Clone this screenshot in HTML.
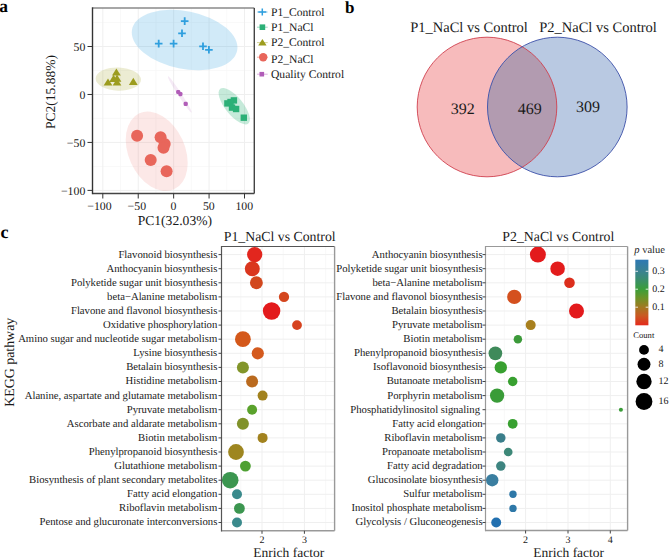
<!DOCTYPE html>
<html><head><meta charset="utf-8"><style>
html,body{margin:0;padding:0;background:#fff;}
svg{display:block;text-rendering:geometricPrecision;font-family:"Liberation Serif",serif;}
</style></head><body>
<svg width="669" height="557" viewBox="0 0 669 557">
<rect width="669" height="557" fill="#fff"/>
<line x1="120.5125" y1="8.0" x2="120.5125" y2="193.5" stroke="#f6f6f6" stroke-width="0.7" />
<line x1="155.9375" y1="8.0" x2="155.9375" y2="193.5" stroke="#f6f6f6" stroke-width="0.7" />
<line x1="191.3625" y1="8.0" x2="191.3625" y2="193.5" stroke="#f6f6f6" stroke-width="0.7" />
<line x1="226.78750000000002" y1="8.0" x2="226.78750000000002" y2="193.5" stroke="#f6f6f6" stroke-width="0.7" />
<line x1="92.5" y1="22.522499999999994" x2="254.3" y2="22.522499999999994" stroke="#f6f6f6" stroke-width="0.7" />
<line x1="92.5" y1="70.4875" x2="254.3" y2="70.4875" stroke="#f6f6f6" stroke-width="0.7" />
<line x1="92.5" y1="118.4525" x2="254.3" y2="118.4525" stroke="#f6f6f6" stroke-width="0.7" />
<line x1="92.5" y1="166.41750000000002" x2="254.3" y2="166.41750000000002" stroke="#f6f6f6" stroke-width="0.7" />
<line x1="102.8" y1="8.0" x2="102.8" y2="193.5" stroke="#efefef" stroke-width="1" />
<line x1="138.225" y1="8.0" x2="138.225" y2="193.5" stroke="#efefef" stroke-width="1" />
<line x1="173.65" y1="8.0" x2="173.65" y2="193.5" stroke="#efefef" stroke-width="1" />
<line x1="209.07500000000002" y1="8.0" x2="209.07500000000002" y2="193.5" stroke="#efefef" stroke-width="1" />
<line x1="244.5" y1="8.0" x2="244.5" y2="193.5" stroke="#efefef" stroke-width="1" />
<line x1="92.5" y1="46.504999999999995" x2="254.3" y2="46.504999999999995" stroke="#efefef" stroke-width="1" />
<line x1="92.5" y1="94.47" x2="254.3" y2="94.47" stroke="#efefef" stroke-width="1" />
<line x1="92.5" y1="142.435" x2="254.3" y2="142.435" stroke="#efefef" stroke-width="1" />
<line x1="92.5" y1="190.4" x2="254.3" y2="190.4" stroke="#efefef" stroke-width="1" />
<ellipse cx="184.6" cy="40" rx="53.6" ry="28.8" transform="rotate(11.5 184.6 40)" fill="#2f9fde" fill-opacity="0.225"/>
<ellipse cx="118.3" cy="79.1" rx="22.7" ry="11.6" transform="rotate(2 118.3 79.1)" fill="#9c9c1e" fill-opacity="0.195"/>
<ellipse cx="234.25" cy="106.15" rx="22.35" ry="8.85" transform="rotate(51 234.25 106.15)" fill="#2cb077" fill-opacity="0.27"/>
<ellipse cx="156.7" cy="151.3" rx="41.8" ry="28.2" transform="rotate(65.5 156.7 151.3)" fill="#e8665b" fill-opacity="0.15"/>
<ellipse cx="179.8" cy="94.5" rx="21.6" ry="1.8" transform="rotate(56.9 179.8 94.5)" fill="#b15db8" fill-opacity="0.13"/>
<path d="M180.89999999999998 21.1H188.5M184.7 17.3V24.900000000000002" stroke="#2f9fde" stroke-width="1.8"/>
<path d="M178.2 33.3H185.8M182 29.499999999999996V37.099999999999994" stroke="#2f9fde" stroke-width="1.8"/>
<path d="M154.89999999999998 43.6H162.5M158.7 39.800000000000004V47.4" stroke="#2f9fde" stroke-width="1.8"/>
<path d="M169.79999999999998 43.6H177.4M173.6 39.800000000000004V47.4" stroke="#2f9fde" stroke-width="1.8"/>
<path d="M199.2 46.3H206.8M203 42.5V50.099999999999994" stroke="#2f9fde" stroke-width="1.8"/>
<path d="M205.1 49.8H212.70000000000002M208.9 46.0V53.599999999999994" stroke="#2f9fde" stroke-width="1.8"/>
<path d="M116.4 68.4L120.80000000000001 75.6L112.0 75.6Z" fill="#9c9c1e"/>
<path d="M117.0 74.6L121.4 81.8L112.6 81.8Z" fill="#9c9c1e"/>
<path d="M113.6 74.8L118.0 82.0L109.19999999999999 82.0Z" fill="#9c9c1e"/>
<path d="M117.0 78.4L121.4 85.6L112.6 85.6Z" fill="#9c9c1e"/>
<path d="M108.0 78.4L112.4 85.6L103.6 85.6Z" fill="#9c9c1e"/>
<path d="M133.3 77.8L137.70000000000002 85.0L128.9 85.0Z" fill="#9c9c1e"/>
<rect x="230.70000000000002" y="97.2" width="6.4" height="6.4" fill="#2cb077"/>
<rect x="227.3" y="98.8" width="6.4" height="6.4" fill="#2cb077"/>
<rect x="224.20000000000002" y="100.2" width="6.4" height="6.4" fill="#2cb077"/>
<rect x="228.8" y="104.39999999999999" width="6.4" height="6.4" fill="#2cb077"/>
<rect x="232.9" y="105.8" width="6.4" height="6.4" fill="#2cb077"/>
<rect x="240.60000000000002" y="114.5" width="6.4" height="6.4" fill="#2cb077"/>
<circle cx="137.1" cy="135.8" r="6" fill="#e8665b"/>
<circle cx="160.6" cy="137.2" r="6" fill="#e8665b"/>
<circle cx="164.7" cy="144" r="6" fill="#e8665b"/>
<circle cx="163.5" cy="147.8" r="6" fill="#e8665b"/>
<circle cx="150.7" cy="160" r="6" fill="#e8665b"/>
<circle cx="166.6" cy="171.3" r="6" fill="#e8665b"/>
<rect x="176.14999999999998" y="89.95" width="4.1" height="4.1" rx="1.3" fill="#b15db8"/>
<rect x="178.35" y="92.05" width="4.1" height="4.1" rx="1.3" fill="#b15db8"/>
<rect x="183.64999999999998" y="101.85000000000001" width="4.1" height="4.1" rx="1.3" fill="#b15db8"/>
<line x1="92.5" y1="8.0" x2="254.3" y2="8.0" stroke="#8a8a8a" stroke-width="1.5" />
<line x1="254.3" y1="8.0" x2="254.3" y2="193.5" stroke="#444" stroke-width="1.4" />
<line x1="92.5" y1="193.5" x2="254.3" y2="193.5" stroke="#444" stroke-width="1.4" />
<line x1="92.5" y1="7.3" x2="92.5" y2="194.2" stroke="#333" stroke-width="1.4" />
<line x1="102.8" y1="193.5" x2="102.8" y2="198.5" stroke="#333" stroke-width="1" />
<text x="99.5" y="209.9" font-size="11.8" text-anchor="middle" fill="#1a1a1a" >&#8722;100</text>
<line x1="138.225" y1="193.5" x2="138.225" y2="198.5" stroke="#333" stroke-width="1" />
<text x="136.825" y="209.9" font-size="11.8" text-anchor="middle" fill="#1a1a1a" >&#8722;50</text>
<line x1="173.65" y1="193.5" x2="173.65" y2="198.5" stroke="#333" stroke-width="1" />
<text x="173.45000000000002" y="209.9" font-size="11.8" text-anchor="middle" fill="#1a1a1a" >0</text>
<line x1="209.07500000000002" y1="193.5" x2="209.07500000000002" y2="198.5" stroke="#333" stroke-width="1" />
<text x="208.87500000000003" y="209.9" font-size="11.8" text-anchor="middle" fill="#1a1a1a" >50</text>
<line x1="244.5" y1="193.5" x2="244.5" y2="198.5" stroke="#333" stroke-width="1" />
<text x="244.3" y="209.9" font-size="11.8" text-anchor="middle" fill="#1a1a1a" >100</text>
<line x1="87.5" y1="46.504999999999995" x2="92.5" y2="46.504999999999995" stroke="#333" stroke-width="1" />
<text x="85.3" y="50.605" font-size="11.8" text-anchor="end" fill="#1a1a1a" >50</text>
<line x1="87.5" y1="94.47" x2="92.5" y2="94.47" stroke="#333" stroke-width="1" />
<text x="85.3" y="98.57" font-size="11.8" text-anchor="end" fill="#1a1a1a" >0</text>
<line x1="87.5" y1="142.435" x2="92.5" y2="142.435" stroke="#333" stroke-width="1" />
<text x="85.3" y="146.535" font-size="11.8" text-anchor="end" fill="#1a1a1a" >&#8722;50</text>
<line x1="87.5" y1="190.4" x2="92.5" y2="190.4" stroke="#333" stroke-width="1" />
<text x="85.3" y="194.5" font-size="11.8" text-anchor="end" fill="#1a1a1a" >&#8722;100</text>
<text x="174.85" y="224.6" font-size="13.6" text-anchor="middle" fill="#1a1a1a" >PC1(32.03%)</text>
<text x="0" y="0" font-size="13.5" text-anchor="middle" fill="#1a1a1a" transform="translate(54.5 92) rotate(-90)">PC2(15.88%)</text>
<line x1="257" y1="12" x2="267.7" y2="12" stroke="#9fd0ee" stroke-width="1" />
<path d="M258.3 12H266.3M262.3 8.4V15.6" stroke="#2f9fde" stroke-width="1.5"/>
<line x1="257" y1="27.2" x2="267.7" y2="27.2" stroke="#9ad8bf" stroke-width="1" />
<rect x="259.59999999999997" y="24.4" width="5.6" height="5.6" fill="#2cb077"/>
<line x1="257" y1="42.6" x2="267.7" y2="42.6" stroke="#d4d49a" stroke-width="1" />
<path d="M262.4 38.9L266.6 45.4L258.2 45.4Z" fill="#9c9c1e"/>
<line x1="257" y1="57.2" x2="267.7" y2="57.2" stroke="#f3aaa2" stroke-width="1" />
<circle cx="263.2" cy="57.2" r="4.2" fill="#e8665b"/>
<line x1="257" y1="74.2" x2="267.7" y2="74.2" stroke="#dcb0e0" stroke-width="1" />
<rect x="259.5" y="71.9" width="4.6" height="4.6" fill="#b15db8"/>
<text x="271.0" y="15.7" font-size="11.6" text-anchor="start" fill="#1a1a1a" >P1_Control</text>
<text x="271.0" y="30.9" font-size="11.6" text-anchor="start" fill="#1a1a1a" >P1_NaCl</text>
<text x="271.0" y="46.1" font-size="11.6" text-anchor="start" fill="#1a1a1a" >P2_Control</text>
<text x="271.0" y="63.0" font-size="11.6" text-anchor="start" fill="#1a1a1a" >P2_NaCl</text>
<text x="271.0" y="78.2" font-size="11.6" text-anchor="start" fill="#1a1a1a" >Quality Control</text>
<text x="-0.8" y="11.8" font-size="17.5" font-weight="bold" fill="#000">a</text>
<text x="345" y="12.6" font-size="17" font-weight="bold" fill="#000">b</text>
<text x="0.5" y="237.6" font-size="18" font-weight="bold" fill="#000">c</text>
<defs><clipPath id="cl"><circle cx="487" cy="107" r="69.8"/></clipPath></defs>
<circle cx="487" cy="107" r="69.8" fill="#f7bbbc"/>
<circle cx="557.3" cy="107" r="69.8" fill="#b9c9e2"/>
<circle cx="557.3" cy="107" r="69.8" fill="#b29bb0" clip-path="url(#cl)"/>
<circle cx="487" cy="107" r="69.8" fill="none" stroke="#cf3f4e" stroke-width="0.9"/>
<circle cx="557.3" cy="107" r="69.8" fill="none" stroke="#3b4fa8" stroke-width="0.9"/>
<text x="469" y="32" font-size="14.5" text-anchor="middle" fill="#1a1a1a" >P1_NaCl vs Control</text>
<text x="598" y="32" font-size="14.5" text-anchor="middle" fill="#1a1a1a" >P2_NaCl vs Control</text>
<text x="462.75" y="113.9" font-size="16" text-anchor="middle" fill="#1a1a1a" >392</text>
<text x="529.75" y="113.9" font-size="16" text-anchor="middle" fill="#1a1a1a" >469</text>
<text x="587.9" y="112.2" font-size="16" text-anchor="middle" fill="#1a1a1a" >309</text>
<text x="0" y="0" font-size="13.9" text-anchor="middle" fill="#1a1a1a" transform="translate(14 362.3) rotate(-90)">KEGG pathway</text>
<line x1="240.8" y1="246.5" x2="240.8" y2="530.8" stroke="#f6f6f6" stroke-width="0.7" />
<line x1="283.2" y1="246.5" x2="283.2" y2="530.8" stroke="#f6f6f6" stroke-width="0.7" />
<line x1="325.6" y1="246.5" x2="325.6" y2="530.8" stroke="#f6f6f6" stroke-width="0.7" />
<line x1="262" y1="246.5" x2="262" y2="530.8" stroke="#efefef" stroke-width="1" />
<line x1="304.4" y1="246.5" x2="304.4" y2="530.8" stroke="#efefef" stroke-width="1" />
<line x1="221.5" y1="254.6" x2="334.6" y2="254.6" stroke="#efefef" stroke-width="1" />
<line x1="221.5" y1="268.7" x2="334.6" y2="268.7" stroke="#efefef" stroke-width="1" />
<line x1="221.5" y1="282.8" x2="334.6" y2="282.8" stroke="#efefef" stroke-width="1" />
<line x1="221.5" y1="296.9" x2="334.6" y2="296.9" stroke="#efefef" stroke-width="1" />
<line x1="221.5" y1="311.0" x2="334.6" y2="311.0" stroke="#efefef" stroke-width="1" />
<line x1="221.5" y1="325.1" x2="334.6" y2="325.1" stroke="#efefef" stroke-width="1" />
<line x1="221.5" y1="339.2" x2="334.6" y2="339.2" stroke="#efefef" stroke-width="1" />
<line x1="221.5" y1="353.3" x2="334.6" y2="353.3" stroke="#efefef" stroke-width="1" />
<line x1="221.5" y1="367.4" x2="334.6" y2="367.4" stroke="#efefef" stroke-width="1" />
<line x1="221.5" y1="381.5" x2="334.6" y2="381.5" stroke="#efefef" stroke-width="1" />
<line x1="221.5" y1="395.6" x2="334.6" y2="395.6" stroke="#efefef" stroke-width="1" />
<line x1="221.5" y1="409.7" x2="334.6" y2="409.7" stroke="#efefef" stroke-width="1" />
<line x1="221.5" y1="423.79999999999995" x2="334.6" y2="423.79999999999995" stroke="#efefef" stroke-width="1" />
<line x1="221.5" y1="437.9" x2="334.6" y2="437.9" stroke="#efefef" stroke-width="1" />
<line x1="221.5" y1="452.0" x2="334.6" y2="452.0" stroke="#efefef" stroke-width="1" />
<line x1="221.5" y1="466.1" x2="334.6" y2="466.1" stroke="#efefef" stroke-width="1" />
<line x1="221.5" y1="480.2" x2="334.6" y2="480.2" stroke="#efefef" stroke-width="1" />
<line x1="221.5" y1="494.29999999999995" x2="334.6" y2="494.29999999999995" stroke="#efefef" stroke-width="1" />
<line x1="221.5" y1="508.4" x2="334.6" y2="508.4" stroke="#efefef" stroke-width="1" />
<line x1="221.5" y1="522.5" x2="334.6" y2="522.5" stroke="#efefef" stroke-width="1" />
<circle cx="254.7" cy="254.6" r="7.65" fill="#e2261e"/>
<circle cx="252.3" cy="268.7" r="7.5" fill="#da361e"/>
<circle cx="256.4" cy="282.8" r="6.45" fill="#d2481e"/>
<circle cx="284" cy="296.9" r="5.15" fill="#d4461e"/>
<circle cx="271.6" cy="311.0" r="8.75" fill="#e31a1c"/>
<circle cx="297" cy="325.1" r="4.9" fill="#d6421e"/>
<circle cx="242.9" cy="339.2" r="7.9" fill="#d4581a"/>
<circle cx="257.8" cy="353.3" r="6.1" fill="#d45a1e"/>
<circle cx="242.9" cy="367.4" r="6.0" fill="#82952a"/>
<circle cx="252.1" cy="381.5" r="6.0" fill="#ba6a1e"/>
<circle cx="262.6" cy="395.6" r="5.0" fill="#a2821e"/>
<circle cx="252.1" cy="409.7" r="5.0" fill="#5aa22c"/>
<circle cx="242.9" cy="423.79999999999995" r="6.0" fill="#80922a"/>
<circle cx="262.6" cy="437.9" r="5.0" fill="#a2821e"/>
<circle cx="236" cy="452.0" r="7.9" fill="#9e8620"/>
<circle cx="245.4" cy="466.1" r="5.4" fill="#4ea032"/>
<circle cx="230.2" cy="480.2" r="8.3" fill="#3c9650"/>
<circle cx="237" cy="494.29999999999995" r="5.0" fill="#3a8a8c"/>
<circle cx="239.4" cy="508.4" r="5.4" fill="#3c9650"/>
<circle cx="237" cy="522.5" r="5.0" fill="#3a8a8c"/>
<line x1="221.5" y1="246.5" x2="334.6" y2="246.5" stroke="#555" stroke-width="1.2" />
<line x1="334.6" y1="246.5" x2="334.6" y2="530.8" stroke="#999" stroke-width="1.4" />
<line x1="221.5" y1="530.8" x2="334.6" y2="530.8" stroke="#999" stroke-width="1.4" />
<line x1="221.5" y1="245.9" x2="221.5" y2="531.5" stroke="#555" stroke-width="1.2" />
<line x1="218.5" y1="254.6" x2="221.5" y2="254.6" stroke="#444" stroke-width="1" />
<text x="217.3" y="257.5" font-size="10.7" text-anchor="end" fill="#1a1a1a" >Flavonoid biosynthesis</text>
<line x1="218.5" y1="268.7" x2="221.5" y2="268.7" stroke="#444" stroke-width="1" />
<text x="217.3" y="271.59999999999997" font-size="10.7" text-anchor="end" fill="#1a1a1a" >Anthocyanin biosynthesis</text>
<line x1="218.5" y1="282.8" x2="221.5" y2="282.8" stroke="#444" stroke-width="1" />
<text x="217.3" y="285.7" font-size="10.7" text-anchor="end" fill="#1a1a1a" >Polyketide sugar unit biosynthesis</text>
<line x1="218.5" y1="296.9" x2="221.5" y2="296.9" stroke="#444" stroke-width="1" />
<text x="217.3" y="299.79999999999995" font-size="10.7" text-anchor="end" fill="#1a1a1a" >beta&#8722;Alanine metabolism</text>
<line x1="218.5" y1="311.0" x2="221.5" y2="311.0" stroke="#444" stroke-width="1" />
<text x="217.3" y="313.9" font-size="10.7" text-anchor="end" fill="#1a1a1a" >Flavone and flavonol biosynthesis</text>
<line x1="218.5" y1="325.1" x2="221.5" y2="325.1" stroke="#444" stroke-width="1" />
<text x="217.3" y="328.0" font-size="10.7" text-anchor="end" fill="#1a1a1a" >Oxidative phosphorylation</text>
<line x1="218.5" y1="339.2" x2="221.5" y2="339.2" stroke="#444" stroke-width="1" />
<text x="217.3" y="342.09999999999997" font-size="10.7" text-anchor="end" fill="#1a1a1a" >Amino sugar and nucleotide sugar metabolism</text>
<line x1="218.5" y1="353.3" x2="221.5" y2="353.3" stroke="#444" stroke-width="1" />
<text x="217.3" y="356.2" font-size="10.7" text-anchor="end" fill="#1a1a1a" >Lysine biosynthesis</text>
<line x1="218.5" y1="367.4" x2="221.5" y2="367.4" stroke="#444" stroke-width="1" />
<text x="217.3" y="370.29999999999995" font-size="10.7" text-anchor="end" fill="#1a1a1a" >Betalain biosynthesis</text>
<line x1="218.5" y1="381.5" x2="221.5" y2="381.5" stroke="#444" stroke-width="1" />
<text x="217.3" y="384.4" font-size="10.7" text-anchor="end" fill="#1a1a1a" >Histidine metabolism</text>
<line x1="218.5" y1="395.6" x2="221.5" y2="395.6" stroke="#444" stroke-width="1" />
<text x="217.3" y="398.5" font-size="10.7" text-anchor="end" fill="#1a1a1a" >Alanine, aspartate and glutamate metabolism</text>
<line x1="218.5" y1="409.7" x2="221.5" y2="409.7" stroke="#444" stroke-width="1" />
<text x="217.3" y="412.59999999999997" font-size="10.7" text-anchor="end" fill="#1a1a1a" >Pyruvate metabolism</text>
<line x1="218.5" y1="423.79999999999995" x2="221.5" y2="423.79999999999995" stroke="#444" stroke-width="1" />
<text x="217.3" y="426.69999999999993" font-size="10.7" text-anchor="end" fill="#1a1a1a" >Ascorbate and aldarate metabolism</text>
<line x1="218.5" y1="437.9" x2="221.5" y2="437.9" stroke="#444" stroke-width="1" />
<text x="217.3" y="440.79999999999995" font-size="10.7" text-anchor="end" fill="#1a1a1a" >Biotin metabolism</text>
<line x1="218.5" y1="452.0" x2="221.5" y2="452.0" stroke="#444" stroke-width="1" />
<text x="217.3" y="454.9" font-size="10.7" text-anchor="end" fill="#1a1a1a" >Phenylpropanoid biosynthesis</text>
<line x1="218.5" y1="466.1" x2="221.5" y2="466.1" stroke="#444" stroke-width="1" />
<text x="217.3" y="469.0" font-size="10.7" text-anchor="end" fill="#1a1a1a" >Glutathione metabolism</text>
<line x1="218.5" y1="480.2" x2="221.5" y2="480.2" stroke="#444" stroke-width="1" />
<text x="217.3" y="483.09999999999997" font-size="10.7" text-anchor="end" fill="#1a1a1a" >Biosynthesis of plant secondary metabolites</text>
<line x1="218.5" y1="494.29999999999995" x2="221.5" y2="494.29999999999995" stroke="#444" stroke-width="1" />
<text x="217.3" y="497.19999999999993" font-size="10.7" text-anchor="end" fill="#1a1a1a" >Fatty acid elongation</text>
<line x1="218.5" y1="508.4" x2="221.5" y2="508.4" stroke="#444" stroke-width="1" />
<text x="217.3" y="511.29999999999995" font-size="10.7" text-anchor="end" fill="#1a1a1a" >Riboflavin metabolism</text>
<line x1="218.5" y1="522.5" x2="221.5" y2="522.5" stroke="#444" stroke-width="1" />
<text x="217.3" y="525.4" font-size="10.7" text-anchor="end" fill="#1a1a1a" >Pentose and glucuronate interconversions</text>
<line x1="262" y1="530.8" x2="262" y2="533.8" stroke="#444" stroke-width="1" />
<text x="262" y="542.9" font-size="10" text-anchor="middle" fill="#1a1a1a" >2</text>
<line x1="304.4" y1="530.8" x2="304.4" y2="533.8" stroke="#444" stroke-width="1" />
<text x="304.4" y="542.9" font-size="10" text-anchor="middle" fill="#1a1a1a" >3</text>
<text x="279.7" y="240.8" font-size="13.8" text-anchor="middle" fill="#1a1a1a" >P1_NaCl vs Control</text>
<text x="288.75" y="556.8" font-size="13.5" text-anchor="middle" fill="#1a1a1a" >Enrich factor</text>
<line x1="504.4" y1="246.5" x2="504.4" y2="530.5" stroke="#f6f6f6" stroke-width="0.7" />
<line x1="546.8" y1="246.5" x2="546.8" y2="530.5" stroke="#f6f6f6" stroke-width="0.7" />
<line x1="589.1" y1="246.5" x2="589.1" y2="530.5" stroke="#f6f6f6" stroke-width="0.7" />
<line x1="525.6" y1="246.5" x2="525.6" y2="530.5" stroke="#efefef" stroke-width="1" />
<line x1="568" y1="246.5" x2="568" y2="530.5" stroke="#efefef" stroke-width="1" />
<line x1="610.3" y1="246.5" x2="610.3" y2="530.5" stroke="#efefef" stroke-width="1" />
<line x1="485.5" y1="254.6" x2="627.6" y2="254.6" stroke="#efefef" stroke-width="1" />
<line x1="485.5" y1="268.7" x2="627.6" y2="268.7" stroke="#efefef" stroke-width="1" />
<line x1="485.5" y1="282.8" x2="627.6" y2="282.8" stroke="#efefef" stroke-width="1" />
<line x1="485.5" y1="296.9" x2="627.6" y2="296.9" stroke="#efefef" stroke-width="1" />
<line x1="485.5" y1="311.0" x2="627.6" y2="311.0" stroke="#efefef" stroke-width="1" />
<line x1="485.5" y1="325.1" x2="627.6" y2="325.1" stroke="#efefef" stroke-width="1" />
<line x1="485.5" y1="339.2" x2="627.6" y2="339.2" stroke="#efefef" stroke-width="1" />
<line x1="485.5" y1="353.3" x2="627.6" y2="353.3" stroke="#efefef" stroke-width="1" />
<line x1="485.5" y1="367.4" x2="627.6" y2="367.4" stroke="#efefef" stroke-width="1" />
<line x1="485.5" y1="381.5" x2="627.6" y2="381.5" stroke="#efefef" stroke-width="1" />
<line x1="485.5" y1="395.6" x2="627.6" y2="395.6" stroke="#efefef" stroke-width="1" />
<line x1="485.5" y1="409.7" x2="627.6" y2="409.7" stroke="#efefef" stroke-width="1" />
<line x1="485.5" y1="423.79999999999995" x2="627.6" y2="423.79999999999995" stroke="#efefef" stroke-width="1" />
<line x1="485.5" y1="437.9" x2="627.6" y2="437.9" stroke="#efefef" stroke-width="1" />
<line x1="485.5" y1="452.0" x2="627.6" y2="452.0" stroke="#efefef" stroke-width="1" />
<line x1="485.5" y1="466.1" x2="627.6" y2="466.1" stroke="#efefef" stroke-width="1" />
<line x1="485.5" y1="480.2" x2="627.6" y2="480.2" stroke="#efefef" stroke-width="1" />
<line x1="485.5" y1="494.29999999999995" x2="627.6" y2="494.29999999999995" stroke="#efefef" stroke-width="1" />
<line x1="485.5" y1="508.4" x2="627.6" y2="508.4" stroke="#efefef" stroke-width="1" />
<line x1="485.5" y1="522.5" x2="627.6" y2="522.5" stroke="#efefef" stroke-width="1" />
<circle cx="537.9" cy="254.6" r="8.0" fill="#e31a1c"/>
<circle cx="557.6" cy="268.7" r="7.25" fill="#e31c1c"/>
<circle cx="569.5" cy="282.8" r="5.3" fill="#dc2e1c"/>
<circle cx="514.3" cy="296.9" r="7.15" fill="#d4501e"/>
<circle cx="576.5" cy="311.0" r="7.5" fill="#e31a1c"/>
<circle cx="530.7" cy="325.1" r="5.0" fill="#a8801e"/>
<circle cx="517.9" cy="339.2" r="4.25" fill="#3c9a3a"/>
<circle cx="495.4" cy="353.3" r="6.85" fill="#3f8a5a"/>
<circle cx="500.8" cy="367.4" r="6.2" fill="#38a030"/>
<circle cx="512.7" cy="381.5" r="4.75" fill="#38a030"/>
<circle cx="497.1" cy="395.6" r="7.15" fill="#3a9c38"/>
<circle cx="620.9" cy="409.7" r="2.05" fill="#3a9c38"/>
<circle cx="512.7" cy="423.79999999999995" r="4.9" fill="#38a030"/>
<circle cx="500.8" cy="437.9" r="4.75" fill="#3a7e8a"/>
<circle cx="508.2" cy="452.0" r="4.35" fill="#3d8878"/>
<circle cx="500.8" cy="466.1" r="4.75" fill="#3d8480"/>
<circle cx="492.2" cy="480.2" r="6.2" fill="#3a7ea0"/>
<circle cx="513" cy="494.29999999999995" r="3.7" fill="#2e78a8"/>
<circle cx="513" cy="508.4" r="3.7" fill="#2e78a8"/>
<circle cx="496.2" cy="522.5" r="4.95" fill="#2270b0"/>
<line x1="485.5" y1="246.5" x2="627.6" y2="246.5" stroke="#999" stroke-width="1.2" />
<line x1="627.6" y1="246.5" x2="627.6" y2="530.5" stroke="#999" stroke-width="1.4" />
<line x1="485.5" y1="530.5" x2="627.6" y2="530.5" stroke="#999" stroke-width="1.4" />
<line x1="485.5" y1="245.9" x2="485.5" y2="531.2" stroke="#999" stroke-width="1.2" />
<line x1="482.5" y1="254.6" x2="485.5" y2="254.6" stroke="#444" stroke-width="1" />
<text x="482.6" y="257.5" font-size="10.7" text-anchor="end" fill="#1a1a1a" >Anthocyanin biosynthesis</text>
<line x1="482.5" y1="268.7" x2="485.5" y2="268.7" stroke="#444" stroke-width="1" />
<text x="482.6" y="271.59999999999997" font-size="10.7" text-anchor="end" fill="#1a1a1a" >Polyketide sugar unit biosynthesis</text>
<line x1="482.5" y1="282.8" x2="485.5" y2="282.8" stroke="#444" stroke-width="1" />
<text x="482.6" y="285.7" font-size="10.7" text-anchor="end" fill="#1a1a1a" >beta&#8722;Alanine metabolism</text>
<line x1="482.5" y1="296.9" x2="485.5" y2="296.9" stroke="#444" stroke-width="1" />
<text x="482.6" y="299.79999999999995" font-size="10.7" text-anchor="end" fill="#1a1a1a" >Flavone and flavonol biosynthesis</text>
<line x1="482.5" y1="311.0" x2="485.5" y2="311.0" stroke="#444" stroke-width="1" />
<text x="482.6" y="313.9" font-size="10.7" text-anchor="end" fill="#1a1a1a" >Betalain biosynthesis</text>
<line x1="482.5" y1="325.1" x2="485.5" y2="325.1" stroke="#444" stroke-width="1" />
<text x="482.6" y="328.0" font-size="10.7" text-anchor="end" fill="#1a1a1a" >Pyruvate metabolism</text>
<line x1="482.5" y1="339.2" x2="485.5" y2="339.2" stroke="#444" stroke-width="1" />
<text x="482.6" y="342.09999999999997" font-size="10.7" text-anchor="end" fill="#1a1a1a" >Biotin metabolism</text>
<line x1="482.5" y1="353.3" x2="485.5" y2="353.3" stroke="#444" stroke-width="1" />
<text x="482.6" y="356.2" font-size="10.7" text-anchor="end" fill="#1a1a1a" >Phenylpropanoid biosynthesis</text>
<line x1="482.5" y1="367.4" x2="485.5" y2="367.4" stroke="#444" stroke-width="1" />
<text x="482.6" y="370.29999999999995" font-size="10.7" text-anchor="end" fill="#1a1a1a" >Isoflavonoid biosynthesis</text>
<line x1="482.5" y1="381.5" x2="485.5" y2="381.5" stroke="#444" stroke-width="1" />
<text x="482.6" y="384.4" font-size="10.7" text-anchor="end" fill="#1a1a1a" >Butanoate metabolism</text>
<line x1="482.5" y1="395.6" x2="485.5" y2="395.6" stroke="#444" stroke-width="1" />
<text x="482.6" y="398.5" font-size="10.7" text-anchor="end" fill="#1a1a1a" >Porphyrin metabolism</text>
<line x1="482.5" y1="409.7" x2="485.5" y2="409.7" stroke="#444" stroke-width="1" />
<text x="480.0" y="412.59999999999997" font-size="10.7" text-anchor="end" fill="#1a1a1a" >Phosphatidylinositol signaling</text>
<line x1="482.5" y1="423.79999999999995" x2="485.5" y2="423.79999999999995" stroke="#444" stroke-width="1" />
<text x="482.6" y="426.69999999999993" font-size="10.7" text-anchor="end" fill="#1a1a1a" >Fatty acid elongation</text>
<line x1="482.5" y1="437.9" x2="485.5" y2="437.9" stroke="#444" stroke-width="1" />
<text x="482.6" y="440.79999999999995" font-size="10.7" text-anchor="end" fill="#1a1a1a" >Riboflavin metabolism</text>
<line x1="482.5" y1="452.0" x2="485.5" y2="452.0" stroke="#444" stroke-width="1" />
<text x="482.6" y="454.9" font-size="10.7" text-anchor="end" fill="#1a1a1a" >Propanoate metabolism</text>
<line x1="482.5" y1="466.1" x2="485.5" y2="466.1" stroke="#444" stroke-width="1" />
<text x="482.6" y="469.0" font-size="10.7" text-anchor="end" fill="#1a1a1a" >Fatty acid degradation</text>
<line x1="482.5" y1="480.2" x2="485.5" y2="480.2" stroke="#444" stroke-width="1" />
<text x="482.6" y="483.09999999999997" font-size="10.7" text-anchor="end" fill="#1a1a1a" >Glucosinolate biosynthesis</text>
<line x1="482.5" y1="494.29999999999995" x2="485.5" y2="494.29999999999995" stroke="#444" stroke-width="1" />
<text x="482.6" y="497.19999999999993" font-size="10.7" text-anchor="end" fill="#1a1a1a" >Sulfur metabolism</text>
<line x1="482.5" y1="508.4" x2="485.5" y2="508.4" stroke="#444" stroke-width="1" />
<text x="482.6" y="511.29999999999995" font-size="10.7" text-anchor="end" fill="#1a1a1a" >Inositol phosphate metabolism</text>
<line x1="482.5" y1="522.5" x2="485.5" y2="522.5" stroke="#444" stroke-width="1" />
<text x="482.6" y="525.4" font-size="10.7" text-anchor="end" fill="#1a1a1a" >Glycolysis / Gluconeogenesis</text>
<line x1="525.6" y1="530.5" x2="525.6" y2="533.5" stroke="#444" stroke-width="1" />
<text x="525.6" y="542.9" font-size="10" text-anchor="middle" fill="#1a1a1a" >2</text>
<line x1="568" y1="530.5" x2="568" y2="533.5" stroke="#444" stroke-width="1" />
<text x="568" y="542.9" font-size="10" text-anchor="middle" fill="#1a1a1a" >3</text>
<line x1="610.3" y1="530.5" x2="610.3" y2="533.5" stroke="#444" stroke-width="1" />
<text x="610.3" y="542.9" font-size="10" text-anchor="middle" fill="#1a1a1a" >4</text>
<text x="558.3" y="240.8" font-size="13.8" text-anchor="middle" fill="#1a1a1a" >P2_NaCl vs Control</text>
<text x="568.7" y="556.8" font-size="13.5" text-anchor="middle" fill="#1a1a1a" >Enrich factor</text>
<defs><linearGradient id="cb" x1="0" y1="1" x2="0" y2="0">
<stop offset="0" stop-color="#e42a1c"/><stop offset="0.15" stop-color="#c95a22"/><stop offset="0.28" stop-color="#a07a22"/>
<stop offset="0.42" stop-color="#6a9428"/><stop offset="0.55" stop-color="#3a9e3a"/><stop offset="0.73" stop-color="#3a8a78"/>
<stop offset="0.82" stop-color="#3a8290"/><stop offset="1" stop-color="#2d78b4"/></linearGradient></defs>
<rect x="635.3" y="259.7" width="13.1" height="65.6" fill="url(#cb)"/>
<line x1="635.3" y1="271.3" x2="638" y2="271.3" stroke="#fff" stroke-width="0.8" />
<line x1="645.7" y1="271.3" x2="648.4" y2="271.3" stroke="#fff" stroke-width="0.8" />
<line x1="635.3" y1="289.2" x2="638" y2="289.2" stroke="#fff" stroke-width="0.8" />
<line x1="645.7" y1="289.2" x2="648.4" y2="289.2" stroke="#fff" stroke-width="0.8" />
<line x1="635.3" y1="307.2" x2="638" y2="307.2" stroke="#fff" stroke-width="0.8" />
<line x1="645.7" y1="307.2" x2="648.4" y2="307.2" stroke="#fff" stroke-width="0.8" />
<text x="652.2" y="274.0" font-size="10" text-anchor="start" fill="#1a1a1a" >0.3</text>
<text x="652.2" y="291.9" font-size="10" text-anchor="start" fill="#1a1a1a" >0.2</text>
<text x="652.2" y="309.8" font-size="10" text-anchor="start" fill="#1a1a1a" >0.1</text>
<text x="634.3" y="253.1" font-size="10.5" fill="#1a1a1a"><tspan font-style="italic">p</tspan> value</text>
<text x="633.3" y="338.2" font-size="8.6" text-anchor="start" fill="#1a1a1a" >Count</text>
<circle cx="644.0" cy="349.9" r="4.9" fill="#000"/>
<text x="658.5" y="352.1" font-size="10" text-anchor="start" fill="#1a1a1a" >4</text>
<circle cx="644.0" cy="364.2" r="6.45" fill="#000"/>
<text x="658.5" y="366.5" font-size="10" text-anchor="start" fill="#1a1a1a" >8</text>
<circle cx="644.0" cy="381.5" r="7.65" fill="#000"/>
<text x="658.5" y="384.3" font-size="10" text-anchor="start" fill="#1a1a1a" >12</text>
<circle cx="644.0" cy="401.5" r="8.4" fill="#000"/>
<text x="658.5" y="404.1" font-size="10" text-anchor="start" fill="#1a1a1a" >16</text>
</svg></body></html>
